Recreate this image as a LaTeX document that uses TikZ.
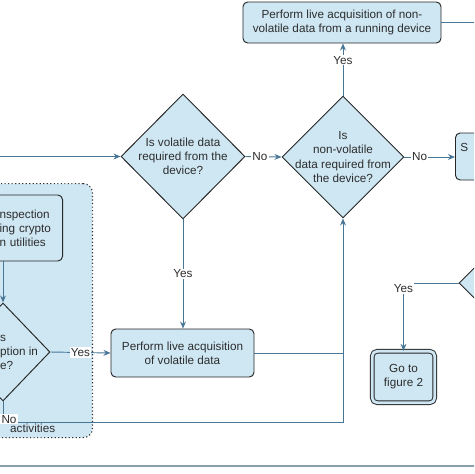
\documentclass[tikz,border=0pt]{standalone}
\usepackage{fontspec}
\setmainfont{Liberation Sans}
\usepackage{tikz}
\usetikzlibrary{shapes,arrows,positioning,arrows.meta}
\definecolor{boxfill}{RGB}{206,231,243}
\definecolor{flowline}{RGB}{72,118,150}
\definecolor{txtgray}{RGB}{45,45,45}
\definecolor{edgegray}{RGB}{138,158,172}

\begin{document}
\begin{tikzpicture}[x=0.03cm, y=-0.03cm, font=\fontsize{10}{12}\selectfont, text=txtgray,
        process/.style={align=center, draw=black!85, fill=boxfill, rounded corners=4pt, line width=0.8pt},
        decision/.style={align=center, draw=black!85, fill=boxfill, diamond, inner sep=-0.4cm, line width=0.8pt},
        flow/.style={draw=flowline, line width=0.8pt},
        arr/.style={flow, -{Stealth[length=6pt, width=5pt]}},
        lbl/.style={fill=white, inner sep=1pt}]
    \useasboundingbox (0,0) rectangle (474,474);
    \clip (0,0) rectangle (474,474);

    % Crypto inspection panel (cut at the left edge)
    \node [draw=black!80, dash pattern=on 1pt off 2pt, line width=1pt, fill=boxfill, rounded corners=8pt, minimum width=3.4cm, minimum height=7.62cm, anchor=north east] (cryptopanel) at (93,183) {};
    \node [process, align=left, text width=1.75cm, inner xsep=0.14cm, minimum height=1.98cm, anchor=east] (inspectbox) at (63,228) {nspection\\ing crypto\\n utilities};
    \node [decision, inner sep=0pt, minimum width=2.82cm, minimum height=2.94cm] (encq) at (3,352) {};
    \node [align=left, anchor=west, inner sep=0pt] (encqtext) at (0,352) {s\\ption in\\e?};
    \node [anchor=west, inner sep=0pt] (actlabel) at (10,428) {activities};

    % Main decisions
    \node [decision, minimum width=3.72cm, minimum height=3.75cm] (volq) at (183,156.5) {Is volatile data\\required from the\\device?};
    \node [decision, minimum width=3.66cm, minimum height=3.66cm] (nonvolq) at (343,157) {Is\\non-volatile\\data required from\\the device?};
    \node [process, minimum width=5.94cm, minimum height=1.23cm] (nonvolacq) at (342,22.5) {Perform live acquisition of non-\\volatile data from a running device};
    \node [process, minimum width=4.29cm, minimum height=1.44cm] (volacq) at (182.5,353) {Perform live acquisition\\of volatile data};
    \node [process, align=left, text width=2.6cm, inner xsep=0.15cm, minimum height=1.41cm, anchor=west] (stopbox) at (455,156.5) {S\\\strut};

    % Right branch (cut at the right edge)
    \node [decision, inner sep=0pt, minimum width=3.66cm, minimum height=3.66cm] (figq) at (520,283) {};
    \node [process, double=boxfill, double distance=2.4pt, rounded corners=4pt, minimum width=1.87cm, minimum height=1.54cm] (gotofig) at (403.5,377) {Go to\\figure 2};

    \coordinate (entry) at (-5,156.5);
    \coordinate (exitright) at (480,22.5);
    \coordinate (loopcorner) at (343,422);

    % Connectors
    \draw [arr] (entry) -- (volq.west);
    \draw [arr] (volq.east) -- node[lbl, pos=0.4] {No} (nonvolq.west);
    \draw [arr] (nonvolq.north) -- node[lbl, pos=0.68] {Yes} (nonvolq.north |- nonvolacq.south);
    \draw [arr] (nonvolq.east) -- node[lbl, pos=0.3] {No} (nonvolq.east -| stopbox.west);
    \draw [flow] (nonvolacq.east) -- (exitright);
    \draw [arr] (volq.south) -- node[lbl] {Yes} (volq.south |- volacq.north);
    \draw [flow] (volacq.east) -- (volacq.east -| nonvolq.south);
    \draw [arr] (encq.north |- inspectbox.south) -- (encq.north);
    \draw [arr] (encq.east) -- node[lbl] {Yes} (volacq.west);
    \draw [arr] (encq.south) |- node[lbl, pos=0.43, xshift=0.18cm] {No} (loopcorner) -- (nonvolq.south);
    \draw [arr] (figq.west) -| node[lbl, pos=0.54] {Yes} (gotofig.north);

    % Page edge
    \draw [edgegray, line width=1.5pt] (-5,466) -- (480,466);
\end{tikzpicture}
\end{document}
